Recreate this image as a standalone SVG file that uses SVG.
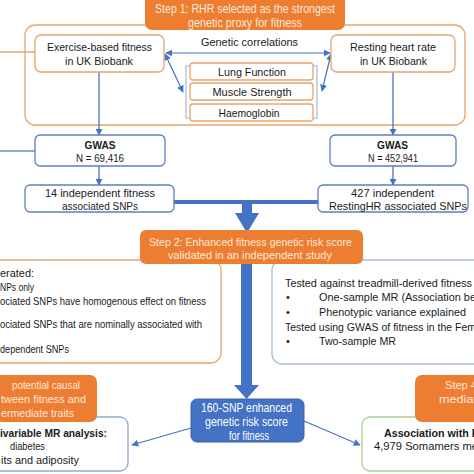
<svg xmlns="http://www.w3.org/2000/svg" width="474" height="474" viewBox="0 0 474 474">
<style>
.t{font-family:"Liberation Sans",Arial,sans-serif;font-size:11px;fill:#1a1a1a}
.s{font-size:10.5px}
.st1{font-size:12.5px}
.st2{font-size:11.8px}
.big{font-size:12.5px}
.c{text-anchor:middle}
.b{font-weight:bold}
.w{fill:#FCE9DC}
.wh{fill:#ffffff}
.ob{fill:#fff;stroke:#E9A46E;stroke-width:1.3}
.bb{fill:#fff;stroke:#5B7FC0;stroke-width:1.3}
.of{fill:#ED7D31}
.ln{stroke:#4472C4;stroke-width:1.3;fill:none}
.thin{stroke:#4472C4;stroke-width:1.2;fill:none}
</style>
<defs>
<marker id="ah" viewBox="0 0 10 10" refX="9" refY="5" markerWidth="7" markerHeight="7" orient="auto-start-reverse" markerUnits="userSpaceOnUse">
<path d="M0,0 L10,5 L0,10 z" fill="#4472C4"/>
</marker>
</defs>
<rect x="25" y="25" width="440" height="100" rx="10" class="ob"/>
<g id="step1">
<rect x="145" y="-10" width="200" height="40" rx="7" class="of"/>
<text class="t c w st1" x="245" y="12.5" textLength="180" lengthAdjust="spacingAndGlyphs">Step 1: RHR selected as the strongest</text>
<text class="t c w st1" x="245" y="27" textLength="114" lengthAdjust="spacingAndGlyphs">genetic proxy for fitness</text>
</g>
<g id="connectors">
<line x1="0" y1="52" x2="35" y2="52" stroke="#E9A46E" stroke-width="1.3"/>
<line x1="0" y1="151" x2="35" y2="151" stroke="#7A8FB8" stroke-width="1.3"/>
<path d="M190 66 H186 V118 H190" fill="none" stroke="#A7B8D8" stroke-width="1.2"/>
<path d="M313 66 H317 V118 H313" fill="none" stroke="#A7B8D8" stroke-width="1.2"/>
<line x1="166" y1="53" x2="330" y2="53" class="thin" marker-start="url(#ah)" marker-end="url(#ah)"/>
<line x1="165" y1="54" x2="183" y2="92" class="thin" marker-start="url(#ah)" marker-end="url(#ah)"/>
<line x1="322" y1="91" x2="331" y2="54" class="thin" marker-start="url(#ah)" marker-end="url(#ah)"/>
<line x1="99" y1="72" x2="99" y2="135" class="ln" marker-end="url(#ah)"/>
<line x1="393" y1="72" x2="393" y2="135" class="ln" marker-end="url(#ah)"/>
<line x1="99" y1="166" x2="99" y2="185" class="ln" marker-end="url(#ah)"/>
<line x1="393" y1="166" x2="393" y2="185" class="ln" marker-end="url(#ah)"/>
<rect x="174" y="200" width="144" height="4" fill="#4472C4"/>
<polygon points="242,202 252,202 252,213 259,213 247,233 235,213 242,213" fill="#4472C4"/>
<polygon points="241,264 252,264 252,385 259,385 246.5,399 234,385 241,385" fill="#4472C4"/>
<line x1="191" y1="428" x2="132" y2="445" class="thin" marker-end="url(#ah)"/>
<line x1="304" y1="421" x2="360" y2="445" class="thin" marker-end="url(#ah)"/>
</g>
<g id="exercise">
<rect x="35" y="35" width="129" height="37" rx="6" class="ob"/>
<text class="t c" x="99.5" y="51" textLength="105" lengthAdjust="spacingAndGlyphs">Exercise-based fitness</text>
<text class="t c" x="99" y="65" textLength="68" lengthAdjust="spacingAndGlyphs">in UK Biobank</text>
</g>
<g id="resting">
<rect x="331" y="35" width="124" height="37" rx="6" class="ob"/>
<text class="t c" x="393" y="51" textLength="86" lengthAdjust="spacingAndGlyphs">Resting heart rate</text>
<text class="t c" x="393.5" y="65" textLength="67" lengthAdjust="spacingAndGlyphs">in UK Biobank</text>
</g>
<g id="gencorr">
<text class="t c" x="249.5" y="46" textLength="97" lengthAdjust="spacingAndGlyphs">Genetic correlations</text>
</g>
<g id="lung">
<rect x="190" y="63" width="123" height="17" rx="3" class="ob"/>
<text class="t c" x="252" y="75.5" textLength="68" lengthAdjust="spacingAndGlyphs">Lung Function</text>
</g>
<g id="muscle">
<rect x="190" y="83" width="123" height="17" rx="3" class="ob"/>
<text class="t c" x="252" y="96" textLength="79" lengthAdjust="spacingAndGlyphs">Muscle Strength</text>
</g>
<g id="haemo">
<rect x="190" y="104" width="123" height="17" rx="3" class="ob"/>
<text class="t c" x="249" y="116.5" textLength="61" lengthAdjust="spacingAndGlyphs">Haemoglobin</text>
</g>
<g id="gwas1">
<rect x="35" y="135" width="130" height="31" rx="5" class="bb"/>
<text class="t c b" x="100" y="149" textLength="31" lengthAdjust="spacingAndGlyphs">GWAS</text>
<text class="t c s" x="100" y="161.5" textLength="48" lengthAdjust="spacingAndGlyphs">N = 69,416</text>
</g>
<g id="gwas2">
<rect x="330" y="135" width="126" height="31" rx="5" class="bb"/>
<text class="t c b" x="392.5" y="149" textLength="31" lengthAdjust="spacingAndGlyphs">GWAS</text>
<text class="t c s" x="393" y="161.5" textLength="50" lengthAdjust="spacingAndGlyphs">N = 452,941</text>
</g>
<g id="snps14">
<rect x="25" y="185" width="149" height="27" rx="5" class="bb"/>
<text class="t c" x="100" y="196.5" textLength="110" lengthAdjust="spacingAndGlyphs">14 independent fitness</text>
<text class="t c" x="100" y="210" textLength="76" lengthAdjust="spacingAndGlyphs">associated SNPs</text>
</g>
<g id="snps427">
<rect x="318" y="185" width="150" height="27" rx="5" class="bb"/>
<text class="t c" x="392.5" y="196.5" textLength="83" lengthAdjust="spacingAndGlyphs">427 independent</text>
<text class="t c" x="398" y="210" textLength="138" lengthAdjust="spacingAndGlyphs">RestingHR associated SNPs</text>
</g>
<g id="leftbox">
<rect x="-20" y="260" width="241" height="103" rx="10" class="ob"/>
<text class="t" x="0" y="277" textLength="34" lengthAdjust="spacingAndGlyphs">erated:</text>
<text class="t" x="0" y="291" textLength="34" lengthAdjust="spacingAndGlyphs">NPs only</text>
<text class="t" x="0" y="304.5" textLength="206" lengthAdjust="spacingAndGlyphs">ociated SNPs have homogenous effect on fitness</text>
<text class="t" x="0" y="328" textLength="202" lengthAdjust="spacingAndGlyphs">ociated SNPs that are nominally associated with</text>
<text class="t" x="0" y="353" textLength="69" lengthAdjust="spacingAndGlyphs">dependent SNPs</text>
</g>
<g id="rightbox">
<rect x="272" y="260" width="230" height="104" rx="10" fill="#fff" stroke="#A8BCDA" stroke-width="1.3"/>
<text class="t" x="285" y="287" textLength="187" lengthAdjust="spacingAndGlyphs">Tested against treadmill-derived fitness</text>
<text class="t" x="286" y="301">•</text>
<text class="t" x="319" y="301" textLength="157" lengthAdjust="spacingAndGlyphs">One-sample MR (Association be</text>
<text class="t" x="286" y="316">•</text>
<text class="t" x="319" y="316" textLength="147" lengthAdjust="spacingAndGlyphs">Phenotypic variance explained</text>
<text class="t" x="285" y="331" textLength="191" lengthAdjust="spacingAndGlyphs">Tested using GWAS of fitness in the Fem</text>
<text class="t" x="286" y="344.5">•</text>
<text class="t" x="319" y="344.5" textLength="77" lengthAdjust="spacingAndGlyphs">Two-sample MR</text>
</g>
<g id="step2">
<rect x="140" y="230" width="223" height="34" rx="6" class="of"/>
<text class="t c w st2" x="250.5" y="246" textLength="203" lengthAdjust="spacingAndGlyphs">Step 2: Enhanced fitness genetic risk score</text>
<text class="t c w st2" x="250" y="259" textLength="164" lengthAdjust="spacingAndGlyphs">validated in an independent study</text>
</g>
<g id="grs160">
<rect x="191" y="399" width="113" height="43" rx="6" fill="#4472C4" stroke="#3A63AD" stroke-width="1"/>
<text class="t c wh big" x="246.5" y="411.5" textLength="91" lengthAdjust="spacingAndGlyphs">160-SNP enhanced</text>
<text class="t c wh big" x="246.5" y="426" textLength="83" lengthAdjust="spacingAndGlyphs">genetic risk score</text>
<text class="t c wh big" x="249" y="440" textLength="40" lengthAdjust="spacingAndGlyphs">for fitness</text>
</g>
<g id="multivar">
<rect x="-20" y="417" width="148" height="54" rx="8" fill="#fff" stroke="#8FAADC" stroke-width="1.3"/>
<text class="t b" x="0" y="437" textLength="107" lengthAdjust="spacingAndGlyphs">ivariable MR analysis:</text>
<text class="t" x="10" y="450" textLength="35" lengthAdjust="spacingAndGlyphs">diabetes</text>
<text class="t" x="1" y="464" textLength="78" lengthAdjust="spacingAndGlyphs">its and adiposity</text>
</g>
<g id="step3">
<rect x="-20" y="375" width="117" height="47" rx="7" class="of"/>
<text class="t w st2" x="12" y="389" textLength="68" lengthAdjust="spacingAndGlyphs">potential causal</text>
<text class="t w st2" x="1" y="403" textLength="85" lengthAdjust="spacingAndGlyphs">tween fitness and</text>
<text class="t w st2" x="1" y="417" textLength="73" lengthAdjust="spacingAndGlyphs">ermediate traits</text>
</g>
<g id="proteins">
<rect x="362" y="417" width="150" height="54" rx="8" fill="#fff" stroke="#A9D18E" stroke-width="1.3"/>
<text class="t b" x="384" y="437" textLength="95" lengthAdjust="spacingAndGlyphs">Association with P</text>
<text class="t" x="374" y="450" textLength="104" lengthAdjust="spacingAndGlyphs">4,979 Somamers me</text>
</g>
<g id="step4">
<rect x="415" y="375" width="80" height="47" rx="7" class="of"/>
<text class="t w st2" x="445" y="389" textLength="32" lengthAdjust="spacingAndGlyphs">Step 4</text>
<text class="t w st2" x="439" y="403" textLength="38" lengthAdjust="spacingAndGlyphs">mediat</text>
</g>
</svg>
